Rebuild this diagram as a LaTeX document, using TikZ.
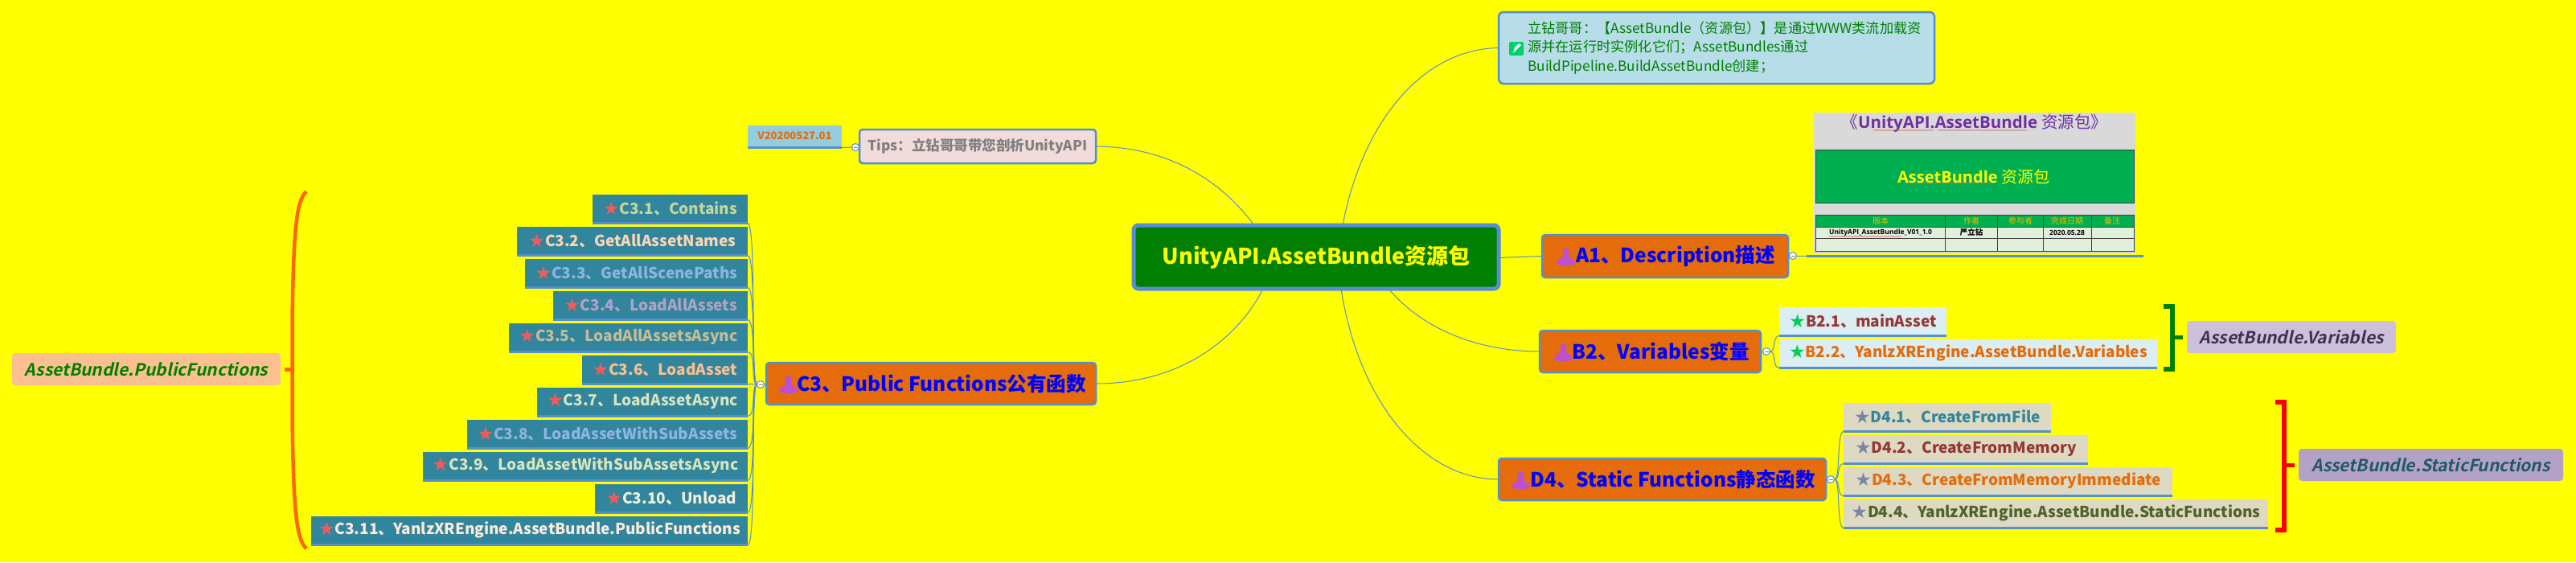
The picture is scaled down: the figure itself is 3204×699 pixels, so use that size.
\documentclass[tikz,border=0pt]{standalone}
\usepackage{fontspec}
\setmainfont{Noto Sans CJK SC}
\newfontfamily\symf{DejaVu Sans}
\newfontfamily\bitf{Noto Sans CJK SC}[UprightFont=* Bold,FakeSlant=0.22]
\newfontfamily\shotf{Open Sans}
\newfontfamily\shotcjk{Noto Sans CJK SC}
\usetikzlibrary{calc,decorations.pathmorphing}
\definecolor{bgyel}{HTML}{FFFF00}
\definecolor{edgeblue}{HTML}{558ED5}
\definecolor{teal}{HTML}{31859C}
\definecolor{orng}{HTML}{E46C0A}
\definecolor{grn}{HTML}{007F00}
\definecolor{starR}{HTML}{F15B5B}
\definecolor{starG}{HTML}{00CF55}
\definecolor{starS}{HTML}{7A86A6}
\definecolor{sand}{HTML}{DDD9C3}
\definecolor{pale}{HTML}{DBEEF4}
\definecolor{dred}{HTML}{953735}
\definecolor{dolive}{HTML}{4F6228}
\definecolor{prp}{HTML}{7030A0}
\definecolor{gbanner}{HTML}{00B050}
\definecolor{personc}{HTML}{BC50CF}
\definecolor{tipsf}{HTML}{F2DCDB}
\definecolor{verf}{HTML}{93CDDD}
\definecolor{notef}{HTML}{B7DDE8}
\definecolor{tgray}{HTML}{7F7F7F}
\definecolor{ca}{HTML}{C3D69B}
\definecolor{cb}{HTML}{FCD5B5}
\definecolor{cc}{HTML}{8EB4E3}
\definecolor{cd}{HTML}{B3A2C7}
\definecolor{ce}{HTML}{C4BD97}
\definecolor{cf}{HTML}{FAC090}
\definecolor{cg}{HTML}{D7E4BD}
\definecolor{ch}{HTML}{EBF1DE}
\definecolor{ci}{HTML}{FDEADA}
\definecolor{varf}{HTML}{CCC1DA}
\definecolor{vart}{HTML}{403152}
\definecolor{statt}{HTML}{215968}
\definecolor{bracO}{HTML}{FF6600}
\definecolor{redb}{HTML}{FF0000}
\definecolor{noteic}{HTML}{00D070}
\definecolor{shotg}{HTML}{D9D9D9}
\definecolor{cellb}{HTML}{E2EFDA}
\definecolor{gridc}{HTML}{404040}
\definecolor{thc}{HTML}{E8C000}
\definecolor{wavc}{HTML}{E06060}
\newcommand\bx[7]{\node[#6,minimum width={#4-#2},minimum height={#5-#3}] (#1) at ({(#2+#4)/2},{(#3+#5)/2}) {#7};}
\newcommand\st[1]{{\symf\fontsize{23}{17}\selectfont\color{#1}\raisebox{-1pt}{★}}}
\newcommand\collapse[3]{\node[collapsec] (#1) at (#2,#3) {};\draw[tgray,line width=0.8] ($(#1.center)+(-2.5,0)$) -- ($(#1.center)+(2.5,0)$);}
\newcommand\uline[1]{\fill[edgeblue] (#1.south west) rectangle ([yshift=-3pt]#1.south east);}
\tikzset{
 x=1pt,y=-1pt,
 base/.style={inner sep=0,outer sep=0},
 central/.style={base,fill=grn,draw=edgeblue,line width=5,rounded corners=6,text=bgyel,font=\fontsize{27}{32}\selectfont\bfseries},
 topic/.style={base,fill=orng,draw=edgeblue,line width=2.5,rounded corners=4,text=blue,font=\fontsize{24.5}{28}\selectfont\bfseries},
 tipsbox/.style={base,fill=tipsf,draw=edgeblue,line width=2.5,rounded corners=4,text=tgray,font=\fontsize{17.5}{22}\selectfont\bfseries},
 verbox/.style={base,fill=verf,text=orng,font=\fontsize{13}{16}\selectfont\bfseries},
 notebox/.style={base,fill=notef,draw=edgeblue,line width=2.5,rounded corners=6,text=grn,font=\fontsize{17.2}{23.5}\selectfont},
 fnbox/.style={base,fill=teal,font=\fontsize{19}{22}\selectfont\bfseries},
 varbox/.style={base,fill=pale,font=\fontsize{19}{22}\selectfont\bfseries},
 statbox/.style={base,fill=sand,font=\fontsize{19}{22}\selectfont\bfseries},
 sumbox/.style={base,rounded corners=4,font=\fontsize{21}{25}\selectfont\bitf},
 link/.style={draw=edgeblue,line width=1},
 collapsec/.style={circle,draw=edgeblue,fill=white,line width=1,minimum size=9,inner sep=0,outer sep=0},
 wav/.style={draw=wavc,line width=0.5,decorate,decoration={snake,amplitude=0.5,segment length=2.5}},
 shotcell/.style={inner sep=0,outer sep=0},
 person/.pic={
  \fill[personc] (11.5,5.5) ellipse (4.2 and 5.5);
  \fill[personc] (8.5,9) .. controls (8.5,14) and (0,13) .. (0,19) .. controls (0,23) and (23,23) .. (23,19) .. controls (23,13) and (14.5,14) .. (14.5,9) -- cycle;
 }
}
\begin{document}
\begin{tikzpicture}
\useasboundingbox (0,0) rectangle (3204,699);
\fill[bgyel] (0,0) rectangle (3204,699);

% central and topics
\bx{center}{1410}{280}{1864}{359}{central}{UnityAPI.AssetBundle资源包}
\bx{tips}{1069}{161}{1363}{203}{tipsbox}{Tips：立钻哥哥带您剖析UnityAPI}
\bx{ver}{930}{156}{1047}{182}{verbox}{V20200527.01}\uline{ver}
\bx{c3}{953}{451}{1363}{503}{topic}{\hspace*{26pt}C3、Public Functions公有函数}
\bx{a1}{1918}{292}{2224}{345}{topic}{\hspace*{26pt}A1、Description描述}
\bx{b2}{1915}{411}{2190}{463}{topic}{\hspace*{26pt}B2、Variables变量}
\bx{d4}{1864}{570}{2271}{622}{topic}{\hspace*{26pt}D4、Static Functions静态函数}
\pic (pc3) at (969,467) {person};
\pic (pa1) at (1936,308) {person};
\pic (pb2) at (1933,427) {person};
\pic (pd4) at (1880,586) {person};

% note
\node[notebox,minimum width=542,minimum height=89,align=left] (note) at (2135,59.5) {\hspace*{20pt}立钻哥哥：【AssetBundle（资源包）】是通过WWW类流加载资\\\hspace*{20pt}源并在运行时实例化它们；AssetBundles通过\\\hspace*{20pt}BuildPipeline.BuildAssetBundle创建；};
\fill[noteic,rounded corners=2] (1877,52) rectangle (1895,69);
\fill[white] (1882,66) -- (1884,59) -- (1889,54) -- (1892,56) -- (1887,61) -- cycle;

% C3 children
\bx{c1}{737}{242}{930}{276}{fnbox,text=ca}{\st{starR}C3.1、Contains}\uline{c1}
\bx{c2}{643}{282}{930}{316}{fnbox,text=cb}{\st{starR}C3.2、GetAllAssetNames}\uline{c2}
\bx{c3a}{653}{322}{930}{356}{fnbox,text=cc}{\st{starR}C3.3、GetAllScenePaths}\uline{c3a}
\bx{c4}{688}{362}{930}{396}{fnbox,text=cd}{\st{starR}C3.4、LoadAllAssets}\uline{c4}
\bx{c5}{633}{402}{930}{436}{fnbox,text=ce}{\st{starR}C3.5、LoadAllAssetsAsync}\uline{c5}
\bx{c6}{724}{442}{930}{476}{fnbox,text=cf}{\st{starR}C3.6、LoadAsset}\uline{c6}
\bx{c7}{668}{482}{930}{516}{fnbox,text=cg}{\st{starR}C3.7、LoadAssetAsync}\uline{c7}
\bx{c8}{581}{522}{930}{556}{fnbox,text=cc}{\st{starR}C3.8、LoadAssetWithSubAssets}\uline{c8}
\bx{c9}{526}{562}{930}{596}{fnbox,text=cg}{\st{starR}C3.9、LoadAssetWithSubAssetsAsync}\uline{c9}
\bx{c10}{740}{602}{930}{636}{fnbox,text=ch}{\st{starR}C3.10、Unload}\uline{c10}
\bx{c11}{387}{642}{930}{676}{fnbox,text=ci}{\st{starR}C3.11、YanlzXREngine.AssetBundle.PublicFunctions}\uline{c11}

% B2 children
\bx{b21}{2213}{382}{2421}{416}{varbox,text=dred}{\st{starG}B2.1、mainAsset}\uline{b21}
\bx{b22}{2213}{422}{2683}{456}{varbox,text=orng}{\st{starG}B2.2、YanlzXREngine.AssetBundle.Variables}\uline{b22}

% D4 children
\bx{d41}{2293}{501}{2551}{535}{statbox,text=teal}{\st{starS}D4.1、CreateFromFile}\uline{d41}
\bx{d42}{2293}{541}{2597}{575}{statbox,text=dred}{\st{starS}D4.2、CreateFromMemory}\uline{d42}
\bx{d43}{2293}{581}{2702}{615}{statbox,text=orng}{\st{starS}D4.3、CreateFromMemoryImmediate}\uline{d43}
\bx{d44}{2293}{621}{2821}{655}{statbox,text=dolive}{\st{starS}D4.4、YanlzXREngine.AssetBundle.StaticFunctions}\uline{d44}

% summary labels
\bx{spub}{15}{439}{349}{479}{sumbox,fill=cf,text=grn}{AssetBundle.PublicFunctions}
\bx{svar}{2720}{399}{2980}{439}{sumbox,fill=varf,text=vart}{AssetBundle.Variables}
\bx{ssta}{2859}{558}{3188}{598}{sumbox,fill=cd,text=statt}{AssetBundle.StaticFunctions}

% summary brackets
\draw[bracO,line width=4.5] (381,238) .. controls (368,250) and (365,290) .. (363.5,400) -- (363.5,520) .. controls (365,630) and (368,670) .. (381,682);
\draw[bracO,line width=5] (354,459) -- (364,459);
\draw[grn,line width=6] (2691,381) -- (2702,381) -- (2702,459) -- (2691,459);
\draw[grn,line width=5] (2702,419) -- (2715,419);
\draw[redb,line width=6] (2830,500) -- (2841,500) -- (2841,659) -- (2830,659);
\draw[redb,line width=5] (2841,578) -- (2854,578);

% screenshot
\node[base,fill=shotg,minimum width=400,minimum height=175] (shot) at (2456,227.5) {};
\node[shotcell,text=prp,font=\fontsize{20.5}{24}\selectfont\shotf\bfseries] (shottitle) at (2456,153) {{\shotcjk\mdseries 《}UnityAPI.AssetBundle {\shotcjk\mdseries 资源包》}};
\node[base,fill=gbanner,draw=gridc,line width=1,minimum width=396,minimum height=66] (banner) at (2456,219) {};
\node[shotcell,text=bgyel,font=\fontsize{20}{24}\selectfont\shotf\bfseries] (bannertext) at (2455,220) {AssetBundle {\shotcjk\mdseries 资源包}};
\draw[wav] (2330,162) -- (2405,162);
\draw[wav] (2410,162) -- (2521,162);
\draw[wav] (2370,228) -- (2480,228);
\fill[gbanner] (2258,267) rectangle (2654,282);
\fill[cellb] (2258,282) rectangle (2654,312);
\draw[gridc,line width=1] (2258,267) rectangle (2654,312);
\draw[gridc,line width=1] (2258,282) -- (2654,282) (2258,296) -- (2654,296);
\foreach \cx in {2419,2484,2541,2601} \draw[gridc,line width=1] (\cx,267) -- (\cx,312);
\begin{scope}[every node/.style={shotcell,text=thc,font=\fontsize{10}{12}\selectfont}]
\node (th1) at (2339,274.5) {版本};
\node (th2) at (2452,274.5) {作者};
\node (th3) at (2513,274.5) {参与者};
\node (th4) at (2571,274.5) {完成日期};
\node (th5) at (2627,274.5) {备注};
\end{scope}
\begin{scope}[every node/.style={shotcell,text=black,font=\fontsize{8.5}{10}\selectfont\shotf\bfseries}]
\node (td1) at (2339,289) {UnityAPI\_AssetBundle\_V01\_1.0};
\node[font=\fontsize{9.5}{10}\selectfont\bfseries] (td2) at (2452,289) {严立钻};
\node (td3) at (2571,289) {2020.05.28};
\end{scope}
\draw[wav] (2275,294) -- (2365,294);
\coordinate (shotline) at (2247,318);
\fill[edgeblue] (2247,316.5) rectangle (2666,319.5);

% collapse buttons
\collapse{c3c}{946}{478}
\collapse{tipsc}{1064}{183}
\collapse{a1c}{2230}{318}
\collapse{b2c}{2197}{437}
\collapse{d4c}{2277}{596}

% connectors from centre
\draw[link] (tips.east) .. controls (1470,183) and (1530,240) .. ([xshift=-77pt]center.north);
\draw[link] (c3.east) .. controls (1470,477) and (1540,420) .. ([xshift=-66pt]center.south);
\draw[link] ([xshift=33pt]center.north) .. controls (1695,150) and (1770,61) .. (note.west);
\draw[link] ([yshift=-1pt]center.east) -- (a1.west);
\draw[link] ([xshift=90pt]center.south) .. controls (1770,410) and (1840,437) .. (b2.west);
\draw[link] ([xshift=31pt]center.south) .. controls (1690,500) and (1770,596) .. (d4.west);

% connectors to collapse buttons and children
\draw[link] (tips.west) -- (tipsc.east);
\draw[link] (tipsc.west) -- ([yshift=-1.5pt]ver.south east);
\draw[link] (c3.west) -- (c3c.east);
\foreach \k in {c1,c2,c3a,c4,c5,c6,c7,c8,c9,c10,c11}
  \draw[link] (c3c.west) .. controls +(-8,0) and +(11,0) .. ([yshift=-1.5pt]\k.south east);
\draw[link] (a1.east) -- (a1c.west);
\draw[link] (a1c.east) -- (shotline);
\draw[link] (b2.east) -- (b2c.west);
\foreach \k in {b21,b22}
  \draw[link] (b2c.east) .. controls +(8,0) and +(-9,0) .. ([yshift=-1.5pt]\k.south west);
\draw[link] (d4.east) -- (d4c.west);
\foreach \k in {d41,d42,d43,d44}
  \draw[link] (d4c.east) .. controls +(8,0) and +(-9,0) .. ([yshift=-1.5pt]\k.south west);
\end{tikzpicture}
\end{document}
